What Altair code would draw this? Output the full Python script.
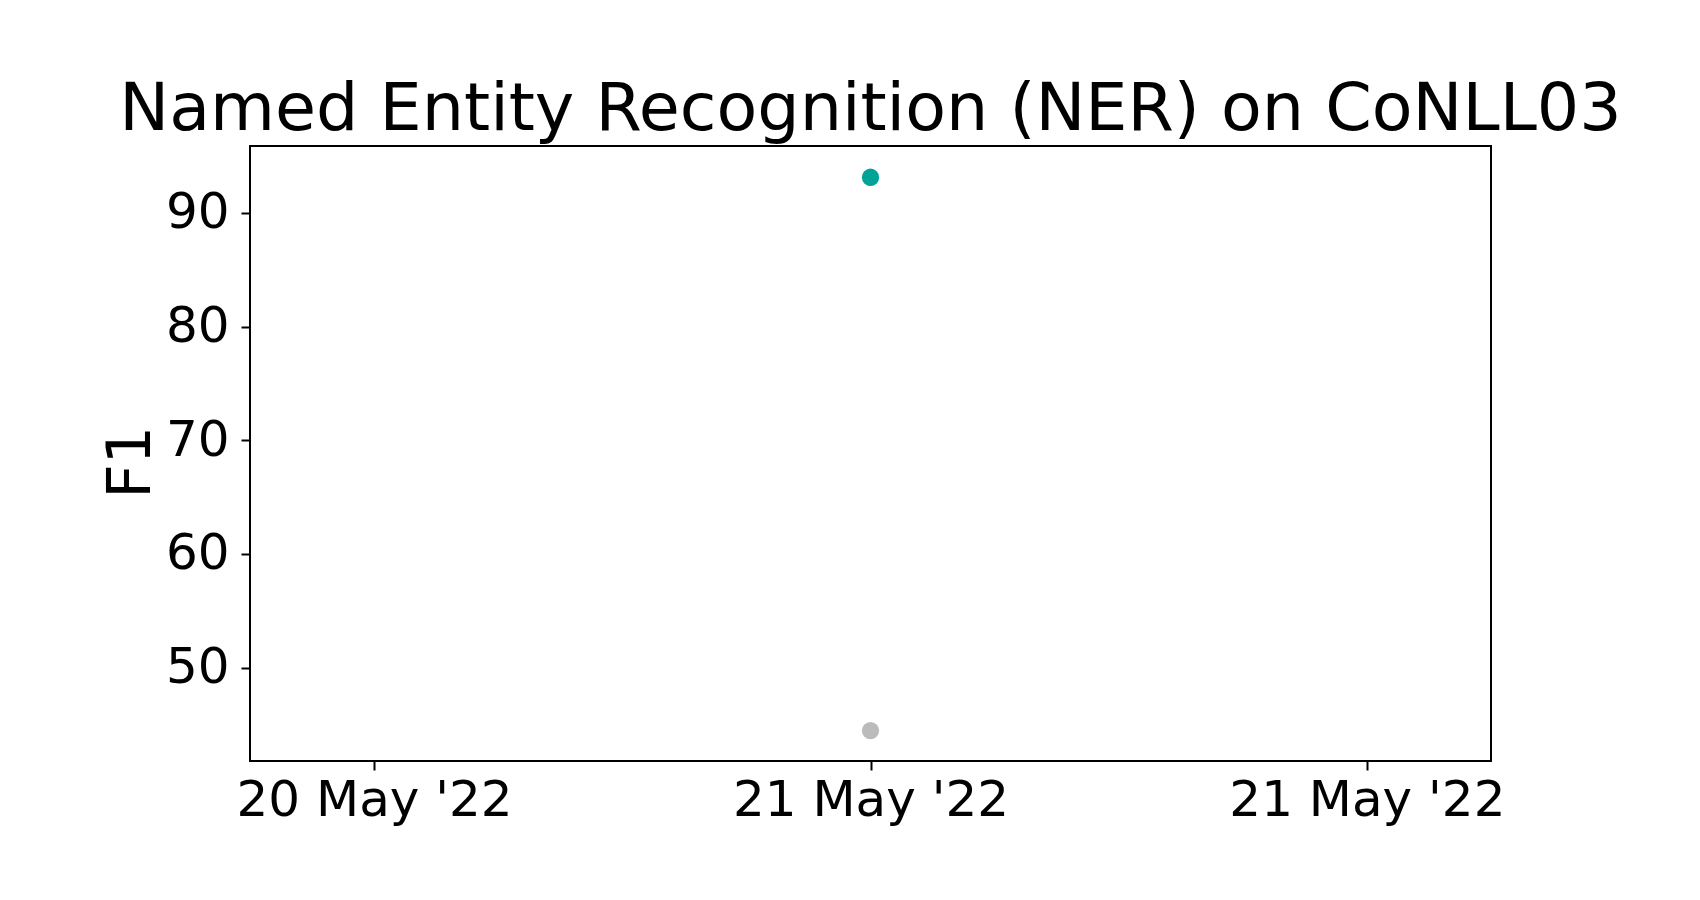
import altair as alt
import pandas as pd

# data
dates = ["2022-05-21T00:00:00Z", "2022-05-21T00:00:00Z"]
f1_scores = [93.14, 44.46]
kinds = ["best", "other"]

df = pd.DataFrame({"date": dates, "F1": f1_scores, "kind": kinds})

font = "DejaVu Sans"

x_ticks = [
    alt.DateTime(year=2022, month=5, date=20, hours=12, utc=True),
    alt.DateTime(year=2022, month=5, date=21, hours=0, utc=True),
    alt.DateTime(year=2022, month=5, date=21, hours=12, utc=True),
]
x_domain = [
    alt.DateTime(year=2022, month=5, date=20, hours=9, utc=True),
    alt.DateTime(year=2022, month=5, date=21, hours=15, utc=True),
]

chart = (
    alt.Chart(df)
    .mark_circle(size=300, opacity=1)
    .encode(
        x=alt.X(
            "date:T",
            scale=alt.Scale(type="utc", domain=x_domain),
            axis=alt.Axis(
                values=x_ticks,
                labelExpr="utcFormat(datum.value, \"%d %b '%y\")",
                title=None,
                grid=False,
                domain=False,
                tickSize=9,
                tickWidth=2,
                tickColor="black",
                labelFont=font,
                labelFontSize=50,
                labelColor="black",
                labelPadding=5,
                labelFlush=False,
                labelOverlap=False,
                labelLimit=600,
            ),
        ),
        y=alt.Y(
            "F1:Q",
            scale=alt.Scale(domain=[41.78, 95.89], nice=False, zero=False),
            axis=alt.Axis(
                values=[50, 60, 70, 80, 90],
                title="F1",
                titleFont=font,
                titleFontSize=60,
                titleFontWeight="normal",
                titleColor="black",
                titlePadding=3,
                titleY=316,
                grid=False,
                domain=False,
                tickSize=9,
                tickWidth=2,
                tickColor="black",
                labelFont=font,
                labelFontSize=50,
                labelColor="black",
                labelPadding=12,
                labelLimit=400,
            ),
        ),
        color=alt.Color(
            "kind:N",
            scale=alt.Scale(domain=["best", "other"], range=["#00a396", "#bbbbbb"]),
            legend=None,
        ),
    )
    .properties(
        width=1241,
        height=615,
        title=alt.TitleParams(
            "Named Entity Recognition (NER) on CoNLL03",
            font=font,
            fontSize=66.7,
            fontWeight="normal",
            color="black",
            anchor="middle",
            offset=2,
        ),
        autosize=alt.AutoSizeParams(type="none"),
        padding={"left": 242, "top": 138, "right": 200, "bottom": 130},
        background="white",
    )
    .configure_view(stroke="black", strokeWidth=2)
)

chart.save("out.html", embed_options={"renderer": "svg", "actions": False})
